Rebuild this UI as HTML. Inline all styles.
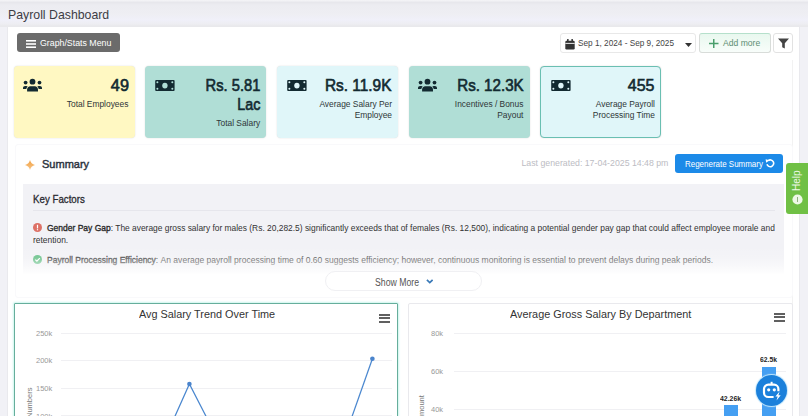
<!DOCTYPE html>
<html><head><meta charset="utf-8">
<style>
*{box-sizing:border-box;margin:0;padding:0}
html,body{width:808px;height:416px;overflow:hidden}
body{background:#f1f1f6;font-family:"Liberation Sans",sans-serif;color:#333;position:relative}
.a{position:absolute}
.t{position:absolute;white-space:nowrap;line-height:1}
.r{text-align:right}
#topband{left:0;top:0;width:808px;height:27px;background:linear-gradient(#f5f5f8 0px,#e7e7ec 2.5px,#ececf1 5px,#eeeef3 14px,#f0f0f9 20px,#eeeef2 24px,#e9e9ec 26px)}
#wrap{left:7px;top:26px;width:793px;height:420px;background:#fff;border:1px solid #e9e9ed;border-top-color:#e9e9ec}
#inner{left:14px;top:60px;width:779px;height:400px;border-right:1px solid #f2f2f2}
#sumcard{left:15px;top:144px;width:778px;height:154px;border:1px solid #f9f9fb;border-radius:3px}
#gmenu{left:17px;top:33px;width:103px;height:19px;background:#6b6b6b;border-radius:3px}
#date{left:560px;top:33px;width:136px;height:20px;border:1px solid #e8e8e8;border-radius:3px;background:#fff}
#add{left:699px;top:33px;width:72px;height:20px;border:1px solid #d8dcd9;border-top-color:#b5e0cb;border-radius:3px;background:linear-gradient(#e9f8ef,#f8fdfa)}
#filt{left:773px;top:33px;width:20px;height:20px;border:1px solid #e2e2e2;border-radius:3px;background:#fff}
.card{top:66px;width:121px;height:72px;border-radius:4px;box-shadow:0 0 1.5px rgba(0,0,0,.18)}
.v{font-size:17px;-webkit-text-stroke:.65px #132a31;color:#132a31;text-align:right;transform-origin:100% 50%}
.l{font-size:9.6px;color:#2f3638;text-align:right;transform:scaleX(.875);transform-origin:100% 0}
#c1{left:14px;background:#fff8c2}
#c2{left:145px;background:#b0ded6}
#c3{left:277px;background:#e0f6f9}
#c4{left:409px;background:#b0ded6}
#c5{left:540px;background:#e0f6f9;border:1px solid #6abfb2}
#regen{left:675px;top:154px;width:108px;height:19px;background:#1c8ae8;border-radius:3px}
#kf{left:23px;top:184px;width:761px;height:90px;background:#f2f2f6}
#kdiv{left:33px;top:210px;width:742px;height:1px;background:#e6e6ec}
.item{font-size:9.2px;color:#333;transform:scaleX(.918);transform-origin:0 0}
.md{-webkit-text-stroke:.35px currentColor;font-size:9.25px;color:#2a2a2a}
#fade{left:23px;top:246px;width:761px;height:29px;background:linear-gradient(rgba(255,255,255,0),rgba(255,255,255,.15) 40%,rgba(255,255,255,.55) 72%,#fff)}
#showmore{left:325px;top:271px;width:157px;height:20px;border:1px solid #f0f0f3;border-radius:10px;background:#fff}
.chart{top:303px;height:130px;border-radius:4px;background:#fff}
#ch1{left:13.5px;width:384.5px;border:1px solid #66ae9c;border-radius:1px;box-shadow:0 0 2px 1px #cdf6ee}
#ch2{left:408px;width:385px;border:1px solid #e9e9ed;border-radius:2px}
.ctitle{font-size:11.8px;color:#333}
.ylab{font-size:7.5px;color:#999}
.grid{height:1px;background:#f0f0f3}
.ham{width:11px;height:9px}
.ham i{display:block;height:1.8px;background:#606060;margin-bottom:1.6px}
#help{left:786px;top:163px;width:24px;height:51px;background:#70c045;border-radius:3px 0 0 3px}
#bot{left:756px;top:374.5px;width:31px;height:31px;border-radius:50%;background:#1b80db;box-shadow:0 0 1px 1px #c6e8fc}
</style></head><body>
<div id="topband" class="a"></div>
<div class="t" style="left:7.7px;top:7.6px;font-size:13.3px;color:#3d3d45;transform:scaleX(.925);transform-origin:0 0">Payroll Dashboard</div>
<div id="wrap" class="a"></div>
<div id="inner" class="a"></div>
<div id="sumcard" class="a"></div>

<div id="gmenu" class="a"><svg class="a" style="left:8.5px;top:7px" width="10" height="8" viewBox="0 0 10 8"><rect y="0" width="10" height="1.6" fill="#fff"/><rect y="3.2" width="10" height="1.6" fill="#fff"/><rect y="6.4" width="10" height="1.6" fill="#fff"/></svg></div>
<div class="t" style="left:40.4px;top:38.9px;font-size:8.9px;color:#fff;transform:scaleX(.99);transform-origin:0 0">Graph/Stats Menu</div>

<div id="date" class="a">
  <svg class="a" style="left:4px;top:4.5px" width="10" height="11" viewBox="0 0 10 11"><rect x="0.3" y="1.8" width="9.4" height="8.7" rx="1.2" fill="#333"/><rect x="2" y="0" width="1.6" height="3" rx=".5" fill="#333"/><rect x="6.4" y="0" width="1.6" height="3" rx=".5" fill="#333"/><rect x="0.3" y="3.9" width="9.4" height="0.9" fill="#fff"/></svg>
  <svg class="a" style="left:124px;top:8.5px" width="7" height="4" viewBox="0 0 7 4"><path d="M0 0h7L3.5 4z" fill="#333"/></svg>
</div>
<div class="t" style="left:577.6px;top:38.7px;font-size:9.2px;color:#444;transform:scaleX(.895);transform-origin:0 0">Sep 1, 2024 - Sep 9, 2025</div>
<div id="add" class="a">
  <svg class="a" style="left:9px;top:5px" width="9.5" height="9" viewBox="0 0 9.5 9"><path d="M4 0h1.5v3.75H9.5v1.5H5.5V9H4V5.25H0v-1.5h4z" fill="#4a9e6c"/></svg>
</div>
<div class="t" style="left:723px;top:38.6px;font-size:8.6px;color:#5f8e74">Add more</div>
<div id="filt" class="a">
  <svg class="a" style="left:4px;top:4px" width="11" height="11" viewBox="0 0 11 11"><path d="M0 0.5h11L6.8 5.2V10.5L4.2 9.2V5.2z" fill="#444"/></svg>
</div>

<!-- cards -->
<div id="c1" class="a card"></div>
<div id="c2" class="a card"></div>
<div id="c3" class="a card"></div>
<div id="c4" class="a card"></div>
<div id="c5" class="a card"></div>

<svg class="a" style="left:23px;top:78px" width="20" height="14" viewBox="0 0 20 14"><circle cx="9.5" cy="3.7" r="2.9" fill="#132a31"/><circle cx="2.6" cy="4.6" r="1.9" fill="#132a31"/><circle cx="16.5" cy="4.6" r="1.9" fill="#132a31"/><path d="M4.1 13.6V11.4C4.1 9.5 5.5 8.2 7.3 8.2H11.8C13.6 8.2 15 9.5 15 11.4V13.6z" fill="#132a31"/><path d="M0 11.1V10.1C0 8.8 .9 7.9 2.1 7.9H3.3c.5 0 1 .2 1.4.5C3.9 9.1 3.4 10 3.3 11.1z" fill="#132a31"/><path d="M19 11.1V10.1C19 8.8 18.1 7.9 16.9 7.9H15.7c-.5 0-1 .2-1.4.5.8.7 1.3 1.6 1.4 2.7z" fill="#132a31"/></svg>
<div class="t v" style="right:679.3px;top:77.4px;transform:scaleX(.954)">49</div>
<div class="t l" style="right:679.9px;top:99.3px">Total Employees</div>

<svg class="a" style="left:155px;top:80px" width="20" height="11" viewBox="0 0 20 11"><rect x="0.2" y="0" width="19.4" height="11" rx="1" fill="#132a31"/><ellipse cx="9.9" cy="5.6" rx="2.7" ry="2.9" fill="#b0ded6"/><circle cx="2.4" cy="2.3" r="1" fill="#b0ded6"/><circle cx="17.3" cy="2.3" r="1" fill="#b0ded6"/><circle cx="2.4" cy="8.8" r="1" fill="#b0ded6"/><circle cx="17.3" cy="8.8" r="1" fill="#b0ded6"/></svg>
<div class="t v" style="right:547.9px;top:77.4px;transform:scaleX(.864)">Rs. 5.81</div>
<div class="t v" style="right:547.9px;top:96.4px;transform:scaleX(.842)">Lac</div>
<div class="t l" style="right:547.6px;top:118.3px">Total Salary</div>

<svg class="a" style="left:287px;top:80px" width="20" height="11" viewBox="0 0 20 11"><rect x="0.2" y="0" width="19.4" height="11" rx="1" fill="#132a31"/><ellipse cx="9.9" cy="5.6" rx="2.7" ry="2.9" fill="#e0f6f9"/><circle cx="2.4" cy="2.3" r="1" fill="#e0f6f9"/><circle cx="17.3" cy="2.3" r="1" fill="#e0f6f9"/><circle cx="2.4" cy="8.8" r="1" fill="#e0f6f9"/><circle cx="17.3" cy="8.8" r="1" fill="#e0f6f9"/></svg>
<div class="t v" style="right:416.4px;top:77.4px;transform:scaleX(.905)">Rs. 11.9K</div>
<div class="t l" style="right:416.2px;top:98.8px;line-height:10.8px">Average Salary Per<br>Employee</div>

<svg class="a" style="left:418px;top:78px" width="20" height="14" viewBox="0 0 20 14"><circle cx="9.5" cy="3.7" r="2.9" fill="#132a31"/><circle cx="2.6" cy="4.6" r="1.9" fill="#132a31"/><circle cx="16.5" cy="4.6" r="1.9" fill="#132a31"/><path d="M4.1 13.6V11.4C4.1 9.5 5.5 8.2 7.3 8.2H11.8C13.6 8.2 15 9.5 15 11.4V13.6z" fill="#132a31"/><path d="M0 11.1V10.1C0 8.8 .9 7.9 2.1 7.9H3.3c.5 0 1 .2 1.4.5C3.9 9.1 3.4 10 3.3 11.1z" fill="#132a31"/><path d="M19 11.1V10.1C19 8.8 18.1 7.9 16.9 7.9H15.7c-.5 0-1 .2-1.4.5.8.7 1.3 1.6 1.4 2.7z" fill="#132a31"/></svg>
<div class="t v" style="right:284.4px;top:77.4px;transform:scaleX(.89)">Rs. 12.3K</div>
<div class="t l" style="right:285px;top:98.8px;line-height:10.8px">Incentives / Bonus<br>Payout</div>

<svg class="a" style="left:551px;top:80px" width="20" height="11" viewBox="0 0 20 11"><rect x="0.2" y="0" width="19.4" height="11" rx="1" fill="#132a31"/><ellipse cx="9.9" cy="5.6" rx="2.7" ry="2.9" fill="#e0f6f9"/><circle cx="2.4" cy="2.3" r="1" fill="#e0f6f9"/><circle cx="17.3" cy="2.3" r="1" fill="#e0f6f9"/><circle cx="2.4" cy="8.8" r="1" fill="#e0f6f9"/><circle cx="17.3" cy="8.8" r="1" fill="#e0f6f9"/></svg>
<div class="t v" style="right:153.3px;top:77.4px;transform:scaleX(.938)">455</div>
<div class="t l" style="right:153.2px;top:98.8px;line-height:10.8px">Average Payroll<br>Processing Time</div>

<!-- summary -->
<svg class="a" style="left:25px;top:160px" width="10" height="10" viewBox="0 0 10 10"><defs><linearGradient id="sg" x1="0" y1="0" x2="0" y2="1"><stop offset="0" stop-color="#f2a040"/><stop offset="1" stop-color="#f7c68a"/></linearGradient></defs><path d="M5 0Q5.9 4.1 10 5Q5.9 5.9 5 10Q4.1 5.9 0 5Q4.1 4.1 5 0z" fill="url(#sg)"/></svg>
<div class="t" style="left:42.3px;top:158.2px;font-size:11.6px;-webkit-text-stroke:.45px #2c3440;color:#2c3440;transform:scaleX(.95);transform-origin:0 0">Summary</div>
<div class="t" style="left:521.5px;top:159.4px;font-size:8.75px;color:#bcbcc3">Last generated: 17-04-2025 14:48 pm</div>
<div id="regen" class="a">
  <svg class="a" style="left:90px;top:5px" width="10" height="9" viewBox="0 0 10 9"><path d="M3.2 1.6A3.4 3.4 0 1 1 2 5.2" fill="none" stroke="#fff" stroke-width="1.6"/><path d="M0.6 0.2L4.4 1.2 1.2 3.8z" fill="#fff"/></svg>
</div>
<div class="t" style="left:684.6px;top:158.6px;font-size:9.6px;color:#fff;transform:scaleX(.83);transform-origin:0 0">Regenerate Summary</div>
<div id="kf" class="a"></div>
<div class="t" style="left:32.7px;top:193.9px;font-size:10.8px;color:#2a2a30;-webkit-text-stroke:.3px #2a2a30;transform:scaleX(.9);transform-origin:0 0">Key Factors</div>
<div id="kdiv" class="a"></div>
<svg class="a" style="left:32.5px;top:222.5px" width="9" height="9" viewBox="0 0 9 9"><circle cx="4.5" cy="4.5" r="4.5" fill="#dd7166"/><rect x="3.9" y="1.8" width="1.2" height="3.6" fill="#fff"/><rect x="3.9" y="6.2" width="1.2" height="1.1" fill="#fff"/></svg>
<div class="t item" style="left:46.5px;top:223.9px;font-size:9.17px"><span class="md">Gender Pay Gap</span>: The average gross salary for males (Rs. 20,282.5) significantly exceeds that of females (Rs. 12,500), indicating a potential gender pay gap that could affect employee morale and</div>
<div class="t item" style="left:33px;top:236.1px">retention.</div>
<svg class="a" style="left:32.5px;top:255px" width="9" height="9" viewBox="0 0 9 9"><circle cx="4.5" cy="4.5" r="4.5" fill="#67c088"/><path d="M2.3 4.6L3.9 6.1 6.8 3.1" fill="none" stroke="#fff" stroke-width="1.3"/></svg>
<div class="t item" style="left:46.5px;top:255.5px"><span class="md" style="color:#484848">Payroll Processing Efficiency</span>: <span style="color:#555;font-size:9.31px">An average payroll processing time of 0.60 suggests efficiency; however, continuous monitoring is essential to prevent delays during peak periods.</span></div>
<div id="fade" class="a"></div>
<div id="showmore" class="a">
  <svg class="a" style="left:99.5px;top:7px" width="7.5" height="5" viewBox="0 0 7.5 5"><path d="M0.9 0.9L3.75 3.6 6.6 0.9" fill="none" stroke="#3a7ab8" stroke-width="1.7"/></svg>
</div>
<div class="t" style="left:374.8px;top:277.6px;font-size:10px;color:#555;transform:scaleX(.87);transform-origin:0 0">Show More</div>

<!-- charts -->
<div id="ch1" class="a chart"></div>
<div id="ch2" class="a chart"></div>
<div class="t ctitle" style="left:139px;top:309.3px;transform:scaleX(.92);transform-origin:0 0">Avg Salary Trend Over Time</div>
<div class="a ham" style="left:379px;top:314px"><i></i><i></i><i></i></div>
<div class="t ylab" style="left:36px;top:329.6px">250k</div>
<div class="t ylab" style="left:36px;top:357.2px">200k</div>
<div class="t ylab" style="left:36px;top:385px">150k</div>
<div class="t ylab" style="left:36px;top:412.5px">100k</div>
<div class="a grid" style="left:61px;top:332.5px;width:331px"></div>
<div class="a grid" style="left:61px;top:360px;width:331px"></div>
<div class="a grid" style="left:61px;top:387.5px;width:331px"></div>
<div class="a grid" style="left:61px;top:415px;width:331px"></div>
<div class="t ylab" style="left:25.5px;top:417.5px;transform:rotate(-90deg);transform-origin:0 0;color:#777">Numbers</div>
<svg class="a" style="left:0;top:0" width="808" height="416"><polyline points="173.3,420 189.4,384 207.9,420" fill="none" stroke="#4a87cf" stroke-width="1.25"/><polyline points="350.8,420 372.4,358.7" fill="none" stroke="#4a87cf" stroke-width="1.25"/><circle cx="189.4" cy="384" r="2.3" fill="#4a84cc"/><circle cx="372.4" cy="358.7" r="2.3" fill="#4a84cc"/></svg>

<div class="t ctitle" style="left:510.4px;top:309.3px;transform:scaleX(.92);transform-origin:0 0">Average Gross Salary By Department</div>
<div class="a ham" style="left:774px;top:313px"><i></i><i></i><i></i></div>
<div class="t ylab" style="left:431px;top:329.8px">80k</div>
<div class="t ylab" style="left:431px;top:368px">60k</div>
<div class="t ylab" style="left:431px;top:405.7px">40k</div>
<div class="a grid" style="left:454px;top:332.5px;width:332px"></div>
<div class="a grid" style="left:454px;top:370.5px;width:332px"></div>
<div class="a grid" style="left:454px;top:408.5px;width:332px"></div>
<div class="t ylab" style="left:418px;top:421px;transform:rotate(-90deg);transform-origin:0 0;color:#777">Amount</div>
<div class="a" style="left:724px;top:405px;width:14px;height:20px;background:#459ff2"></div>
<div class="a" style="left:762px;top:367px;width:14px;height:60px;background:#459ff2"></div>
<div class="t" style="left:720.2px;top:394.5px;font-size:7.6px;font-weight:bold;color:#222;transform:scaleX(.91);transform-origin:0 0">42.26k</div>
<div class="t" style="left:760px;top:355.5px;font-size:7.6px;font-weight:bold;color:#222;transform:scaleX(.89);transform-origin:0 0">62.5k</div>

<div id="help" class="a">
  <div class="t" style="left:5.8px;top:28.2px;font-size:10px;color:#eef8e8;transform:rotate(-90deg);transform-origin:0 0">Help</div>
  <svg class="a" style="left:5.5px;top:31px" width="11" height="11" viewBox="0 0 11 11"><circle cx="5.5" cy="5.5" r="5.1" fill="#eef8e6"/><path d="M5.5 3V8" stroke="#8fb27c" stroke-width="1"/></svg>
</div>
<div id="bot" class="a">
  <svg class="a" style="left:0;top:0" width="31" height="31" viewBox="0 0 31 31"><path d="M15.6 6.8V9.6" stroke="#fff" stroke-width="2"/><path d="M22.4 16.2V14A4.3 4.3 0 0 0 18.1 9.7H12.3A4.3 4.3 0 0 0 8 14V17.7A4.3 4.3 0 0 0 12.3 22H17.6" fill="none" stroke="#fff" stroke-width="2.2"/><circle cx="12.7" cy="14.8" r="1.6" fill="#fff"/><circle cx="18.3" cy="14.8" r="1.6" fill="#fff"/><path d="M23.6 16.6L19.4 21.6H21.7L20.5 25.6L24.7 20.3H22.4z" fill="#fff"/></svg>
</div>
</body></html>
